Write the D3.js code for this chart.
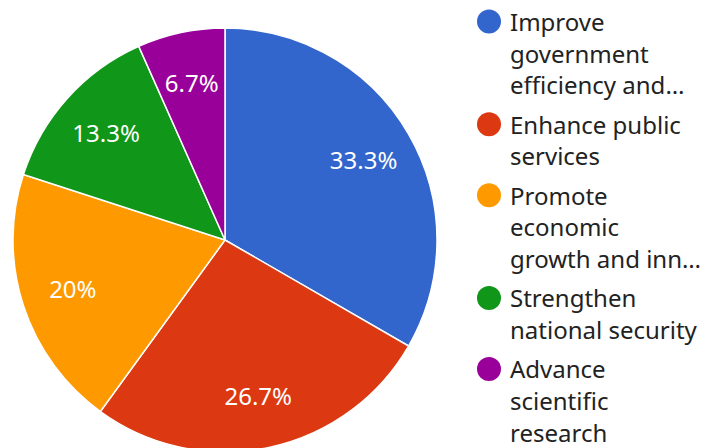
<!DOCTYPE html>
<html>
<head>
<meta charset="utf-8">
<script src="https://cdn.jsdelivr.net/npm/d3@7"></script>
<style>
  html, body { margin: 0; padding: 0; background: #fff; }
  svg { display: block; font-family: "Noto Sans", sans-serif; }
</style>
</head>
<body>
<svg id="chart" width="704" height="448"></svg>
<script>
// data
var categories = [
  "Improve government efficiency and transparency",
  "Enhance public services",
  "Promote economic growth and innovation",
  "Strengthen national security",
  "Advance scientific research"
];
var values = [5, 4, 3, 2, 1];
var colors = ["#3366cc", "#dc3912", "#ff9900", "#109618", "#990099"];

var width = 704, height = 448;
var cx = 225, cy = 240, radius = 212;

var svg = d3.select("#chart");

var data = categories.map(function(c, i) { return { name: c, value: values[i], color: colors[i] }; });
var total = d3.sum(values);

var pie = d3.pie().sort(null).value(function(d) { return d.value; });
var arc = d3.arc().innerRadius(0).outerRadius(radius);
var labelArc = d3.arc().innerRadius(160).outerRadius(160);

var g = svg.append("g").attr("transform", "translate(" + cx + "," + cy + ")");

g.selectAll("path.slice")
  .data(pie(data))
  .enter()
  .append("path")
    .attr("class", "slice")
    .attr("d", arc)
    .attr("fill", function(d) { return d.data.color; })
    .attr("stroke", "#fff")
    .attr("stroke-width", 1.5);

var fmt = function(v) {
  var p = Math.round(v / total * 1000) / 10;
  return p + "%";
};

g.selectAll("text.pct")
  .data(pie(data))
  .enter()
  .append("text")
    .attr("class", "pct")
    .attr("transform", function(d) { return "translate(" + labelArc.centroid(d) + ")"; })
    .attr("text-anchor", "middle")
    .attr("dy", "0.36em")
    .attr("fill", "#fff")
    .style("font-size", "24px")
    .text(function(d) { return fmt(d.data.value); });

// LEGEND
var legendX = 489, textX = 510, maxW = 192, lineH = 31.7, groupGap = 7.6;
var legend = svg.append("g");

// greedy word wrap, max 3 lines, ellipsis on the last one
function wrap(textEl, str) {
  var words = str.split(" ");
  var lines = [], cur = "";
  var probe = textEl.append("tspan");
  function w(s) { probe.text(s); return probe.node().getComputedTextLength(); }
  for (var i = 0; i < words.length; i++) {
    var test = cur ? cur + " " + words[i] : words[i];
    if (w(test) > maxW && cur) {
      lines.push(cur);
      cur = words[i];
      if (lines.length === 2) {
        cur = words.slice(i).join(" ");
        break;
      }
    } else {
      cur = test;
    }
  }
  if (lines.length === 2 && w(cur) > maxW) {
    var s = cur;
    while (s.length && w(s + "\u2026") > maxW) s = s.slice(0, -1);
    // don't leave a single stray letter of a cut word
    var sp = s.lastIndexOf(" ");
    if (sp > 0 && s.length - sp - 1 < 2) s = s.slice(0, sp);
    cur = s.replace(/\s+$/, "") + "\u2026";
  }
  lines.push(cur);
  probe.remove();
  return lines;
}

var y = 31;
data.forEach(function(d) {
  var t = legend.append("text")
    .attr("x", textX)
    .attr("fill", "#222")
    .style("font-size", "24px");
  var lines = wrap(t, d.name);
  legend.append("circle")
    .attr("cx", legendX)
    .attr("cy", y - 9.5)
    .attr("r", 12)
    .attr("fill", d.color);
  lines.forEach(function(l, k) {
    t.append("tspan")
      .attr("x", textX)
      .attr("y", y + k * lineH)
      .text(l);
  });
  y += lines.length * lineH + groupGap;
});
</script>
</body>
</html>
